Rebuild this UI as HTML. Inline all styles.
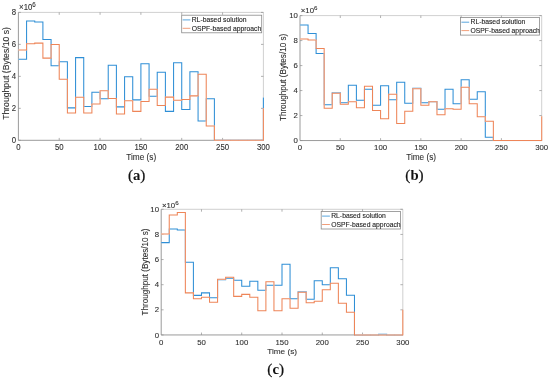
<!DOCTYPE html>
<html><head><meta charset="utf-8"><title>Figure</title>
<style>
html,body{margin:0;padding:0;background:#fff;}
svg{display:block}
.tk{font-family:"Liberation Sans",Arial,sans-serif;font-size:7.8px;fill:#303030;stroke:#303030;stroke-width:0.1px}
.lb{font-family:"Liberation Sans",Arial,sans-serif;font-size:8.25px;fill:#303030;stroke:#303030;stroke-width:0.1px}
.lg{font-family:"Liberation Sans",Arial,sans-serif;font-size:6.8px;fill:#222;stroke:#333;stroke-width:0.12px}
.cp{font-family:"Liberation Serif","DejaVu Serif",serif;font-size:14.7px;fill:#111}
</style></head><body>
<svg width="550" height="380" viewBox="0 0 550 380">
<rect width="550" height="380" fill="#fff"/>
<path d="M18.40,12.40 H263.40 V140.30" fill="none" stroke="#c4c4c4" stroke-width="0.8"/>
<path d="M18.40,12.40 V140.30 H263.40" fill="none" stroke="#8e8e8e" stroke-width="0.9"/>
<path d="M18.40,140.30 v-0.0 M18.40,12.40 v0.0" stroke="#8e8e8e" stroke-width="0.7"/>
<text transform="translate(18.40,149.90) scale(1,1.050)" text-anchor="middle" class="tk">0</text>
<path d="M59.23,140.30 v-2.4 M59.23,12.40 v2.4" stroke="#8e8e8e" stroke-width="0.7"/>
<text transform="translate(59.23,149.90) scale(1,1.050)" text-anchor="middle" class="tk">50</text>
<path d="M100.07,140.30 v-2.4 M100.07,12.40 v2.4" stroke="#8e8e8e" stroke-width="0.7"/>
<text transform="translate(100.07,149.90) scale(1,1.050)" text-anchor="middle" class="tk">100</text>
<path d="M140.90,140.30 v-2.4 M140.90,12.40 v2.4" stroke="#8e8e8e" stroke-width="0.7"/>
<text transform="translate(140.90,149.90) scale(1,1.050)" text-anchor="middle" class="tk">150</text>
<path d="M181.73,140.30 v-2.4 M181.73,12.40 v2.4" stroke="#8e8e8e" stroke-width="0.7"/>
<text transform="translate(181.73,149.90) scale(1,1.050)" text-anchor="middle" class="tk">200</text>
<path d="M222.57,140.30 v-2.4 M222.57,12.40 v2.4" stroke="#8e8e8e" stroke-width="0.7"/>
<text transform="translate(222.57,149.90) scale(1,1.050)" text-anchor="middle" class="tk">250</text>
<path d="M263.40,140.30 v-0.0 M263.40,12.40 v0.0" stroke="#8e8e8e" stroke-width="0.7"/>
<text transform="translate(263.40,149.90) scale(1,1.050)" text-anchor="middle" class="tk">300</text>
<path d="M18.40,140.30 h2.4 M263.40,140.30 h-2.4" stroke="#8e8e8e" stroke-width="0.7"/>
<text transform="translate(16.20,142.90) scale(1,1.050)" text-anchor="end" class="tk">0</text>
<path d="M18.40,108.33 h2.4 M263.40,108.33 h-2.4" stroke="#8e8e8e" stroke-width="0.7"/>
<text transform="translate(16.20,110.93) scale(1,1.050)" text-anchor="end" class="tk">2</text>
<path d="M18.40,76.35 h2.4 M263.40,76.35 h-2.4" stroke="#8e8e8e" stroke-width="0.7"/>
<text transform="translate(16.20,78.95) scale(1,1.050)" text-anchor="end" class="tk">4</text>
<path d="M18.40,44.38 h2.4 M263.40,44.38 h-2.4" stroke="#8e8e8e" stroke-width="0.7"/>
<text transform="translate(16.20,46.98) scale(1,1.050)" text-anchor="end" class="tk">6</text>
<path d="M18.40,12.40 h2.4 M263.40,12.40 h-2.4" stroke="#8e8e8e" stroke-width="0.7"/>
<text transform="translate(16.20,15.00) scale(1,1.050)" text-anchor="end" class="tk">8</text>
<text transform="translate(19.10,10.40) scale(1,1.050)" text-anchor="start" class="tk"><tspan font-size="7.9">×</tspan>10<tspan dy="-3.2" font-size="6.2">6</tspan></text>
<text transform="translate(141.20,160.00) scale(1,1.050)" text-anchor="middle" class="lb">Time (s)</text>
<text transform="translate(9.30,73.50) scale(1,1.050) rotate(-90)" text-anchor="middle" class="lb">Throughput (Bytes/10 s)</text>
<path d="M18.40,59.24 L26.57,59.24 L26.57,21.03 L34.73,21.03 L34.73,21.99 L42.90,21.99 L42.90,39.58 L51.07,39.58 L51.07,65.80 L59.23,65.80 L59.23,61.80 L67.40,61.80 L67.40,107.85 L75.57,107.85 L75.57,57.64 L83.73,57.64 L83.73,106.41 L91.90,106.41 L91.90,92.34 L100.07,92.34 L100.07,98.73 L108.23,98.73 L108.23,65.16 L116.40,65.16 L116.40,106.89 L124.57,106.89 L124.57,76.83 L132.73,76.83 L132.73,99.85 L140.90,99.85 L140.90,63.72 L149.07,63.72 L149.07,96.33 L157.23,96.33 L157.23,72.19 L165.40,72.19 L165.40,111.36 L173.57,111.36 L173.57,62.76 L181.73,62.76 L181.73,109.44 L189.90,109.44 L189.90,71.71 L198.07,71.71 L198.07,120.96 L206.23,120.96 L206.23,98.73 L214.40,98.73 L214.40,140.30 L222.57,140.30 L222.57,140.30 L230.73,140.30 L230.73,140.30 L238.90,140.30 L238.90,140.30 L247.07,140.30 L247.07,140.30 L255.23,140.30 L255.23,140.30 L263.40,140.30 L263.40,97.45" fill="none" stroke="#fff" stroke-width="1" stroke-linejoin="miter"/><path d="M18.40,59.24 L26.57,59.24 L26.57,21.03 L34.73,21.03 L34.73,21.99 L42.90,21.99 L42.90,39.58 L51.07,39.58 L51.07,65.80 L59.23,65.80 L59.23,61.80 L67.40,61.80 L67.40,107.85 L75.57,107.85 L75.57,57.64 L83.73,57.64 L83.73,106.41 L91.90,106.41 L91.90,92.34 L100.07,92.34 L100.07,98.73 L108.23,98.73 L108.23,65.16 L116.40,65.16 L116.40,106.89 L124.57,106.89 L124.57,76.83 L132.73,76.83 L132.73,99.85 L140.90,99.85 L140.90,63.72 L149.07,63.72 L149.07,96.33 L157.23,96.33 L157.23,72.19 L165.40,72.19 L165.40,111.36 L173.57,111.36 L173.57,62.76 L181.73,62.76 L181.73,109.44 L189.90,109.44 L189.90,71.71 L198.07,71.71 L198.07,120.96 L206.23,120.96 L206.23,98.73 L214.40,98.73 L214.40,140.30 L222.57,140.30 L222.57,140.30 L230.73,140.30 L230.73,140.30 L238.90,140.30 L238.90,140.30 L247.07,140.30 L247.07,140.30 L255.23,140.30 L255.23,140.30 L263.40,140.30 L263.40,97.45" fill="none" stroke="#2f8fd6" stroke-width="1.05" stroke-linejoin="miter"/>
<path d="M18.40,49.97 L26.57,49.97 L26.57,43.74 L34.73,43.74 L34.73,43.10 L42.90,43.10 L42.90,58.12 L51.07,58.12 L51.07,44.53 L59.23,44.53 L59.23,79.23 L67.40,79.23 L67.40,112.96 L75.57,112.96 L75.57,97.29 L83.73,97.29 L83.73,112.96 L91.90,112.96 L91.90,104.01 L100.07,104.01 L100.07,90.74 L108.23,90.74 L108.23,98.41 L116.40,98.41 L116.40,113.92 L124.57,113.92 L124.57,100.81 L132.73,100.81 L132.73,111.36 L140.90,111.36 L140.90,101.45 L149.07,101.45 L149.07,89.30 L157.23,89.30 L157.23,105.45 L165.40,105.45 L165.40,97.13 L173.57,97.13 L173.57,100.33 L181.73,100.33 L181.73,99.53 L189.90,99.53 L189.90,95.85 L198.07,95.85 L198.07,74.27 L206.23,74.27 L206.23,125.91 L214.40,125.91 L214.40,140.30 L222.57,140.30 L222.57,140.30 L230.73,140.30 L230.73,140.30 L238.90,140.30 L238.90,140.30 L247.07,140.30 L247.07,140.30 L255.23,140.30 L255.23,140.30 L263.40,140.30 L263.40,108.33" fill="none" stroke="#fff" stroke-width="1" stroke-linejoin="miter"/><path d="M18.40,49.97 L26.57,49.97 L26.57,43.74 L34.73,43.74 L34.73,43.10 L42.90,43.10 L42.90,58.12 L51.07,58.12 L51.07,44.53 L59.23,44.53 L59.23,79.23 L67.40,79.23 L67.40,112.96 L75.57,112.96 L75.57,97.29 L83.73,97.29 L83.73,112.96 L91.90,112.96 L91.90,104.01 L100.07,104.01 L100.07,90.74 L108.23,90.74 L108.23,98.41 L116.40,98.41 L116.40,113.92 L124.57,113.92 L124.57,100.81 L132.73,100.81 L132.73,111.36 L140.90,111.36 L140.90,101.45 L149.07,101.45 L149.07,89.30 L157.23,89.30 L157.23,105.45 L165.40,105.45 L165.40,97.13 L173.57,97.13 L173.57,100.33 L181.73,100.33 L181.73,99.53 L189.90,99.53 L189.90,95.85 L198.07,95.85 L198.07,74.27 L206.23,74.27 L206.23,125.91 L214.40,125.91 L214.40,140.30 L222.57,140.30 L222.57,140.30 L230.73,140.30 L230.73,140.30 L238.90,140.30 L238.90,140.30 L247.07,140.30 L247.07,140.30 L255.23,140.30 L255.23,140.30 L263.40,140.30 L263.40,108.33" fill="none" stroke="#ee8558" stroke-width="1.05" stroke-linejoin="miter"/>
<rect x="181.70" y="15.20" width="80.00" height="17.60" fill="#fff" stroke="#8a8a8a" stroke-width="0.8"/>
<path d="M182.60,19.90 h7.8" stroke="#2f8fd6" stroke-width="0.8"/>
<path d="M182.60,28.30 h7.8" stroke="#ee8558" stroke-width="0.8"/>
<text transform="translate(191.70,22.10) scale(1,1.050)" text-anchor="start" class="lg">RL-based solution</text>
<text transform="translate(191.70,30.60) scale(1,1.050)" text-anchor="start" class="lg">OSPF-based approach</text>
<text x="136.70" y="179.60" text-anchor="middle" class="cp"><tspan font-size="15.2" stroke="#111" stroke-width="0.25">(</tspan><tspan font-weight="bold">a</tspan><tspan font-size="15.2" stroke="#111" stroke-width="0.25">)</tspan></text>
<path d="M300.00,15.60 H541.70 V140.55" fill="none" stroke="#c4c4c4" stroke-width="0.8"/>
<path d="M300.00,15.60 V140.55 H541.70" fill="none" stroke="#8e8e8e" stroke-width="0.9"/>
<path d="M300.00,140.55 v-0.0 M300.00,15.60 v0.0" stroke="#8e8e8e" stroke-width="0.7"/>
<text transform="translate(300.00,150.15) scale(1,0.990)" text-anchor="middle" class="tk">0</text>
<path d="M340.28,140.55 v-2.4 M340.28,15.60 v2.4" stroke="#8e8e8e" stroke-width="0.7"/>
<text transform="translate(340.28,150.15) scale(1,0.990)" text-anchor="middle" class="tk">50</text>
<path d="M380.57,140.55 v-2.4 M380.57,15.60 v2.4" stroke="#8e8e8e" stroke-width="0.7"/>
<text transform="translate(380.57,150.15) scale(1,0.990)" text-anchor="middle" class="tk">100</text>
<path d="M420.85,140.55 v-2.4 M420.85,15.60 v2.4" stroke="#8e8e8e" stroke-width="0.7"/>
<text transform="translate(420.85,150.15) scale(1,0.990)" text-anchor="middle" class="tk">150</text>
<path d="M461.13,140.55 v-2.4 M461.13,15.60 v2.4" stroke="#8e8e8e" stroke-width="0.7"/>
<text transform="translate(461.13,150.15) scale(1,0.990)" text-anchor="middle" class="tk">200</text>
<path d="M501.42,140.55 v-2.4 M501.42,15.60 v2.4" stroke="#8e8e8e" stroke-width="0.7"/>
<text transform="translate(501.42,150.15) scale(1,0.990)" text-anchor="middle" class="tk">250</text>
<path d="M541.70,140.55 v-0.0 M541.70,15.60 v0.0" stroke="#8e8e8e" stroke-width="0.7"/>
<text transform="translate(541.70,150.15) scale(1,0.990)" text-anchor="middle" class="tk">300</text>
<path d="M300.00,140.55 h2.4 M541.70,140.55 h-2.4" stroke="#8e8e8e" stroke-width="0.7"/>
<text transform="translate(297.80,143.15) scale(1,0.990)" text-anchor="end" class="tk">0</text>
<path d="M300.00,115.56 h2.4 M541.70,115.56 h-2.4" stroke="#8e8e8e" stroke-width="0.7"/>
<text transform="translate(297.80,118.16) scale(1,0.990)" text-anchor="end" class="tk">2</text>
<path d="M300.00,90.57 h2.4 M541.70,90.57 h-2.4" stroke="#8e8e8e" stroke-width="0.7"/>
<text transform="translate(297.80,93.17) scale(1,0.990)" text-anchor="end" class="tk">4</text>
<path d="M300.00,65.58 h2.4 M541.70,65.58 h-2.4" stroke="#8e8e8e" stroke-width="0.7"/>
<text transform="translate(297.80,68.18) scale(1,0.990)" text-anchor="end" class="tk">6</text>
<path d="M300.00,40.59 h2.4 M541.70,40.59 h-2.4" stroke="#8e8e8e" stroke-width="0.7"/>
<text transform="translate(297.80,43.19) scale(1,0.990)" text-anchor="end" class="tk">8</text>
<path d="M300.00,15.60 h2.4 M541.70,15.60 h-2.4" stroke="#8e8e8e" stroke-width="0.7"/>
<text transform="translate(297.80,18.20) scale(1,0.990)" text-anchor="end" class="tk">10</text>
<text transform="translate(300.70,13.20) scale(1,0.990)" text-anchor="start" class="tk"><tspan font-size="7.9">×</tspan>10<tspan dy="-3.2" font-size="6.2">6</tspan></text>
<text transform="translate(421.10,159.80) scale(1,0.990)" text-anchor="middle" class="lb">Time (s)</text>
<text transform="translate(286.30,77.40) scale(1,0.990) rotate(-90)" text-anchor="middle" class="lb">Throughput (Bytes/10 s)</text>
<path d="M300.00,24.97 L308.06,24.97 L308.06,33.47 L316.11,33.47 L316.11,53.58 L324.17,53.58 L324.17,104.69 L332.23,104.69 L332.23,92.69 L340.28,92.69 L340.28,102.69 L348.34,102.69 L348.34,85.20 L356.40,85.20 L356.40,100.19 L364.45,100.19 L364.45,89.20 L372.51,89.20 L372.51,105.19 L380.57,105.19 L380.57,85.70 L388.62,85.70 L388.62,99.69 L396.68,99.69 L396.68,82.20 L404.74,82.20 L404.74,103.19 L412.79,103.19 L412.79,88.20 L420.85,88.20 L420.85,102.69 L428.91,102.69 L428.91,101.69 L436.96,101.69 L436.96,109.31 L445.02,109.31 L445.02,89.20 L453.08,89.20 L453.08,103.69 L461.13,103.69 L461.13,79.70 L469.19,79.70 L469.19,99.19 L477.25,99.19 L477.25,91.69 L485.30,91.69 L485.30,137.30 L493.36,137.30 L493.36,140.55 L501.42,140.55 L501.42,140.55 L509.47,140.55 L509.47,140.55 L517.53,140.55 L517.53,140.55 L525.59,140.55 L525.59,140.55 L533.64,140.55 L533.64,140.55 L541.70,140.55 L541.70,140.55" fill="none" stroke="#fff" stroke-width="1" stroke-linejoin="miter"/><path d="M300.00,24.97 L308.06,24.97 L308.06,33.47 L316.11,33.47 L316.11,53.58 L324.17,53.58 L324.17,104.69 L332.23,104.69 L332.23,92.69 L340.28,92.69 L340.28,102.69 L348.34,102.69 L348.34,85.20 L356.40,85.20 L356.40,100.19 L364.45,100.19 L364.45,89.20 L372.51,89.20 L372.51,105.19 L380.57,105.19 L380.57,85.70 L388.62,85.70 L388.62,99.69 L396.68,99.69 L396.68,82.20 L404.74,82.20 L404.74,103.19 L412.79,103.19 L412.79,88.20 L420.85,88.20 L420.85,102.69 L428.91,102.69 L428.91,101.69 L436.96,101.69 L436.96,109.31 L445.02,109.31 L445.02,89.20 L453.08,89.20 L453.08,103.69 L461.13,103.69 L461.13,79.70 L469.19,79.70 L469.19,99.19 L477.25,99.19 L477.25,91.69 L485.30,91.69 L485.30,137.30 L493.36,137.30 L493.36,140.55 L501.42,140.55 L501.42,140.55 L509.47,140.55 L509.47,140.55 L517.53,140.55 L517.53,140.55 L525.59,140.55 L525.59,140.55 L533.64,140.55 L533.64,140.55 L541.70,140.55 L541.70,140.55" fill="none" stroke="#2f8fd6" stroke-width="1.05" stroke-linejoin="miter"/>
<path d="M300.00,38.97 L308.06,38.97 L308.06,39.97 L316.11,39.97 L316.11,48.46 L324.17,48.46 L324.17,108.19 L332.23,108.19 L332.23,93.19 L340.28,93.19 L340.28,104.19 L348.34,104.19 L348.34,101.69 L356.40,101.69 L356.40,107.69 L364.45,107.69 L364.45,86.20 L372.51,86.20 L372.51,110.44 L380.57,110.44 L380.57,118.81 L388.62,118.81 L388.62,94.19 L396.68,94.19 L396.68,123.56 L404.74,123.56 L404.74,111.19 L412.79,111.19 L412.79,88.70 L420.85,88.70 L420.85,105.19 L428.91,105.19 L428.91,101.82 L436.96,101.82 L436.96,114.81 L445.02,114.81 L445.02,108.69 L453.08,108.69 L453.08,109.31 L461.13,109.31 L461.13,87.20 L469.19,87.20 L469.19,103.69 L477.25,103.69 L477.25,116.81 L485.30,116.81 L485.30,121.31 L493.36,121.31 L493.36,140.55 L501.42,140.55 L501.42,140.55 L509.47,140.55 L509.47,140.55 L517.53,140.55 L517.53,140.55 L525.59,140.55 L525.59,140.55 L533.64,140.55 L533.64,140.55 L541.70,140.55 L541.70,116.31" fill="none" stroke="#fff" stroke-width="1" stroke-linejoin="miter"/><path d="M300.00,38.97 L308.06,38.97 L308.06,39.97 L316.11,39.97 L316.11,48.46 L324.17,48.46 L324.17,108.19 L332.23,108.19 L332.23,93.19 L340.28,93.19 L340.28,104.19 L348.34,104.19 L348.34,101.69 L356.40,101.69 L356.40,107.69 L364.45,107.69 L364.45,86.20 L372.51,86.20 L372.51,110.44 L380.57,110.44 L380.57,118.81 L388.62,118.81 L388.62,94.19 L396.68,94.19 L396.68,123.56 L404.74,123.56 L404.74,111.19 L412.79,111.19 L412.79,88.70 L420.85,88.70 L420.85,105.19 L428.91,105.19 L428.91,101.82 L436.96,101.82 L436.96,114.81 L445.02,114.81 L445.02,108.69 L453.08,108.69 L453.08,109.31 L461.13,109.31 L461.13,87.20 L469.19,87.20 L469.19,103.69 L477.25,103.69 L477.25,116.81 L485.30,116.81 L485.30,121.31 L493.36,121.31 L493.36,140.55 L501.42,140.55 L501.42,140.55 L509.47,140.55 L509.47,140.55 L517.53,140.55 L517.53,140.55 L525.59,140.55 L525.59,140.55 L533.64,140.55 L533.64,140.55 L541.70,140.55 L541.70,116.31" fill="none" stroke="#ee8558" stroke-width="1.05" stroke-linejoin="miter"/>
<rect x="460.50" y="17.50" width="79.00" height="17.60" fill="#fff" stroke="#8a8a8a" stroke-width="0.8"/>
<path d="M461.40,22.20 h7.8" stroke="#2f8fd6" stroke-width="0.8"/>
<path d="M461.40,30.60 h7.8" stroke="#ee8558" stroke-width="0.8"/>
<text transform="translate(470.50,24.40) scale(1,0.990)" text-anchor="start" class="lg">RL-based solution</text>
<text transform="translate(470.50,32.90) scale(1,0.990)" text-anchor="start" class="lg">OSPF-based approach</text>
<text x="414.50" y="179.60" text-anchor="middle" class="cp"><tspan font-size="15.2" stroke="#111" stroke-width="0.25">(</tspan><tspan font-weight="bold">b</tspan><tspan font-size="15.2" stroke="#111" stroke-width="0.25">)</tspan></text>
<path d="M161.20,209.30 H402.80 V334.95" fill="none" stroke="#c4c4c4" stroke-width="0.8"/>
<path d="M161.20,209.30 V334.95 H402.80" fill="none" stroke="#8e8e8e" stroke-width="0.9"/>
<path d="M161.20,334.95 v-0.0 M161.20,209.30 v0.0" stroke="#8e8e8e" stroke-width="0.7"/>
<text transform="translate(161.20,344.55) scale(1,0.985)" text-anchor="middle" class="tk">0</text>
<path d="M201.47,334.95 v-2.4 M201.47,209.30 v2.4" stroke="#8e8e8e" stroke-width="0.7"/>
<text transform="translate(201.47,344.55) scale(1,0.985)" text-anchor="middle" class="tk">50</text>
<path d="M241.73,334.95 v-2.4 M241.73,209.30 v2.4" stroke="#8e8e8e" stroke-width="0.7"/>
<text transform="translate(241.73,344.55) scale(1,0.985)" text-anchor="middle" class="tk">100</text>
<path d="M282.00,334.95 v-2.4 M282.00,209.30 v2.4" stroke="#8e8e8e" stroke-width="0.7"/>
<text transform="translate(282.00,344.55) scale(1,0.985)" text-anchor="middle" class="tk">150</text>
<path d="M322.27,334.95 v-2.4 M322.27,209.30 v2.4" stroke="#8e8e8e" stroke-width="0.7"/>
<text transform="translate(322.27,344.55) scale(1,0.985)" text-anchor="middle" class="tk">200</text>
<path d="M362.53,334.95 v-2.4 M362.53,209.30 v2.4" stroke="#8e8e8e" stroke-width="0.7"/>
<text transform="translate(362.53,344.55) scale(1,0.985)" text-anchor="middle" class="tk">250</text>
<path d="M402.80,334.95 v-0.0 M402.80,209.30 v0.0" stroke="#8e8e8e" stroke-width="0.7"/>
<text transform="translate(402.80,344.55) scale(1,0.985)" text-anchor="middle" class="tk">300</text>
<path d="M161.20,334.95 h2.4 M402.80,334.95 h-2.4" stroke="#8e8e8e" stroke-width="0.7"/>
<text transform="translate(159.00,337.55) scale(1,0.985)" text-anchor="end" class="tk">0</text>
<path d="M161.20,309.82 h2.4 M402.80,309.82 h-2.4" stroke="#8e8e8e" stroke-width="0.7"/>
<text transform="translate(159.00,312.42) scale(1,0.985)" text-anchor="end" class="tk">2</text>
<path d="M161.20,284.69 h2.4 M402.80,284.69 h-2.4" stroke="#8e8e8e" stroke-width="0.7"/>
<text transform="translate(159.00,287.29) scale(1,0.985)" text-anchor="end" class="tk">4</text>
<path d="M161.20,259.56 h2.4 M402.80,259.56 h-2.4" stroke="#8e8e8e" stroke-width="0.7"/>
<text transform="translate(159.00,262.16) scale(1,0.985)" text-anchor="end" class="tk">6</text>
<path d="M161.20,234.43 h2.4 M402.80,234.43 h-2.4" stroke="#8e8e8e" stroke-width="0.7"/>
<text transform="translate(159.00,237.03) scale(1,0.985)" text-anchor="end" class="tk">8</text>
<path d="M161.20,209.30 h2.4 M402.80,209.30 h-2.4" stroke="#8e8e8e" stroke-width="0.7"/>
<text transform="translate(159.00,211.90) scale(1,0.985)" text-anchor="end" class="tk">10</text>
<text transform="translate(161.90,208.00) scale(1,0.985)" text-anchor="start" class="tk"><tspan font-size="7.9">×</tspan>10<tspan dy="-3.2" font-size="6.2">6</tspan></text>
<text transform="translate(282.10,354.40) scale(1,0.985)" text-anchor="middle" class="lb">Time (s)</text>
<text transform="translate(147.50,272.00) scale(1,0.985) rotate(-90)" text-anchor="middle" class="lb">Throughput (Bytes/10 s)</text>
<path d="M161.20,242.60 L169.25,242.60 L169.25,229.03 L177.31,229.03 L177.31,230.03 L185.36,230.03 L185.36,262.20 L193.41,262.20 L193.41,295.37 L201.47,295.37 L201.47,292.86 L209.52,292.86 L209.52,297.76 L217.57,297.76 L217.57,279.79 L225.63,279.79 L225.63,278.28 L233.68,278.28 L233.68,280.29 L241.73,280.29 L241.73,286.32 L249.79,286.32 L249.79,281.30 L257.84,281.30 L257.84,290.34 L265.89,290.34 L265.89,285.32 L273.95,285.32 L273.95,285.32 L282.00,285.32 L282.00,264.21 L290.05,264.21 L290.05,298.76 L298.11,298.76 L298.11,291.85 L306.16,291.85 L306.16,299.27 L314.21,299.27 L314.21,280.79 L322.27,280.79 L322.27,284.82 L330.32,284.82 L330.32,267.73 L338.37,267.73 L338.37,278.78 L346.43,278.78 L346.43,295.24 L354.48,295.24 L354.48,334.95 L362.53,334.95 L362.53,334.95 L370.59,334.95 L370.59,334.95 L378.64,334.95 L378.64,334.38 L386.69,334.38 L386.69,334.95 L394.75,334.95 L394.75,334.95 L402.80,334.95 L402.80,334.95" fill="none" stroke="#fff" stroke-width="1" stroke-linejoin="miter"/><path d="M161.20,242.60 L169.25,242.60 L169.25,229.03 L177.31,229.03 L177.31,230.03 L185.36,230.03 L185.36,262.20 L193.41,262.20 L193.41,295.37 L201.47,295.37 L201.47,292.86 L209.52,292.86 L209.52,297.76 L217.57,297.76 L217.57,279.79 L225.63,279.79 L225.63,278.28 L233.68,278.28 L233.68,280.29 L241.73,280.29 L241.73,286.32 L249.79,286.32 L249.79,281.30 L257.84,281.30 L257.84,290.34 L265.89,290.34 L265.89,285.32 L273.95,285.32 L273.95,285.32 L282.00,285.32 L282.00,264.21 L290.05,264.21 L290.05,298.76 L298.11,298.76 L298.11,291.85 L306.16,291.85 L306.16,299.27 L314.21,299.27 L314.21,280.79 L322.27,280.79 L322.27,284.82 L330.32,284.82 L330.32,267.73 L338.37,267.73 L338.37,278.78 L346.43,278.78 L346.43,295.24 L354.48,295.24 L354.48,334.95 L362.53,334.95 L362.53,334.95 L370.59,334.95 L370.59,334.95 L378.64,334.95 L378.64,334.38 L386.69,334.38 L386.69,334.95 L394.75,334.95 L394.75,334.95 L402.80,334.95 L402.80,334.95" fill="none" stroke="#2f8fd6" stroke-width="1.05" stroke-linejoin="miter"/>
<path d="M161.20,234.05 L169.25,234.05 L169.25,215.08 L177.31,215.08 L177.31,212.57 L185.36,212.57 L185.36,292.86 L193.41,292.86 L193.41,298.76 L201.47,298.76 L201.47,297.25 L209.52,297.25 L209.52,302.28 L217.57,302.28 L217.57,279.29 L225.63,279.29 L225.63,277.28 L233.68,277.28 L233.68,296.38 L241.73,296.38 L241.73,294.37 L249.79,294.37 L249.79,297.25 L257.84,297.25 L257.84,310.83 L265.89,310.83 L265.89,281.80 L273.95,281.80 L273.95,310.83 L282.00,310.83 L282.00,298.76 L290.05,298.76 L290.05,308.31 L298.11,308.31 L298.11,292.23 L306.16,292.23 L306.16,302.78 L314.21,302.78 L314.21,301.28 L322.27,301.28 L322.27,289.84 L330.32,289.84 L330.32,283.31 L338.37,283.31 L338.37,303.16 L346.43,303.16 L346.43,312.33 L354.48,312.33 L354.48,334.95 L362.53,334.95 L362.53,334.95 L370.59,334.95 L370.59,334.95 L378.64,334.95 L378.64,334.95 L386.69,334.95 L386.69,334.95 L394.75,334.95 L394.75,334.95 L402.80,334.95 L402.80,309.82" fill="none" stroke="#fff" stroke-width="1" stroke-linejoin="miter"/><path d="M161.20,234.05 L169.25,234.05 L169.25,215.08 L177.31,215.08 L177.31,212.57 L185.36,212.57 L185.36,292.86 L193.41,292.86 L193.41,298.76 L201.47,298.76 L201.47,297.25 L209.52,297.25 L209.52,302.28 L217.57,302.28 L217.57,279.29 L225.63,279.29 L225.63,277.28 L233.68,277.28 L233.68,296.38 L241.73,296.38 L241.73,294.37 L249.79,294.37 L249.79,297.25 L257.84,297.25 L257.84,310.83 L265.89,310.83 L265.89,281.80 L273.95,281.80 L273.95,310.83 L282.00,310.83 L282.00,298.76 L290.05,298.76 L290.05,308.31 L298.11,308.31 L298.11,292.23 L306.16,292.23 L306.16,302.78 L314.21,302.78 L314.21,301.28 L322.27,301.28 L322.27,289.84 L330.32,289.84 L330.32,283.31 L338.37,283.31 L338.37,303.16 L346.43,303.16 L346.43,312.33 L354.48,312.33 L354.48,334.95 L362.53,334.95 L362.53,334.95 L370.59,334.95 L370.59,334.95 L378.64,334.95 L378.64,334.95 L386.69,334.95 L386.69,334.95 L394.75,334.95 L394.75,334.95 L402.80,334.95 L402.80,309.82" fill="none" stroke="#ee8558" stroke-width="1.05" stroke-linejoin="miter"/>
<rect x="321.20" y="211.40" width="79.20" height="17.60" fill="#fff" stroke="#8a8a8a" stroke-width="0.8"/>
<path d="M322.10,216.10 h7.8" stroke="#2f8fd6" stroke-width="0.8"/>
<path d="M322.10,224.50 h7.8" stroke="#ee8558" stroke-width="0.8"/>
<text transform="translate(331.20,218.30) scale(1,0.985)" text-anchor="start" class="lg">RL-based solution</text>
<text transform="translate(331.20,226.80) scale(1,0.985)" text-anchor="start" class="lg">OSPF-based approach</text>
<text x="275.70" y="373.50" text-anchor="middle" class="cp"><tspan font-size="15.2" stroke="#111" stroke-width="0.25">(</tspan><tspan font-weight="bold">c</tspan><tspan font-size="15.2" stroke="#111" stroke-width="0.25">)</tspan></text>
</svg>
</body></html>
